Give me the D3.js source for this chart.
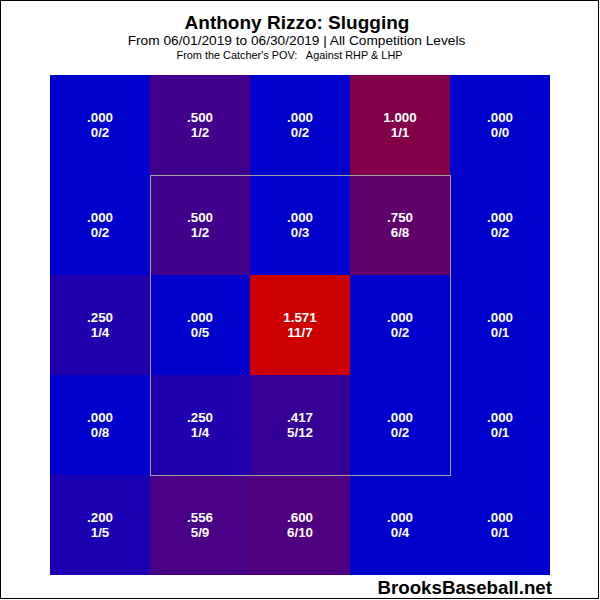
<!DOCTYPE html>
<html>
<head>
<meta charset="utf-8">
<script src="https://cdn.jsdelivr.net/npm/d3@7"></script>
<style>
  body { margin: 0; background: #fff; }
  svg text { font-family: "Liberation Sans", Arial, sans-serif; }
</style>
</head>
<body>
<div id="container"></div>
<script>
// zone grid, catcher's view, rows top -> bottom, cols left -> right
const rows = [0, 1, 2, 3, 4];
const cols = [0, 1, 2, 3, 4];
const slg = [
  [0.000, 0.500, 0.000, 1.000, 0.000],
  [0.000, 0.500, 0.000, 0.750, 0.000],
  [0.250, 0.000, 1.571, 0.000, 0.000],
  [0.000, 0.250, 0.417, 0.000, 0.000],
  [0.200, 0.556, 0.600, 0.000, 0.000]
];
const bases = [
  [0, 1, 0, 1, 0],
  [0, 1, 0, 6, 0],
  [1, 0, 11, 0, 0],
  [0, 1, 5, 0, 0],
  [1, 5, 6, 0, 0]
];
const atBats = [
  [2, 2, 2, 1, 0],
  [2, 2, 3, 8, 2],
  [4, 5, 7, 2, 1],
  [8, 4, 12, 2, 1],
  [5, 9, 10, 4, 1]
];

const w = 600, h = 600;

var cells = [];
for (let r of rows) for (let c of cols)
  cells.push({r: r, c: c, v: slg[r][c], b: bases[r][c], ab: atBats[r][c]});

const xScale = d3.scaleBand().domain(cols).range([50, 550]);
const yScale = d3.scaleBand().domain(rows).range([75, 575]);
const color = d3.scaleLinear()
                .domain([0, d3.max(cells, d => d.v)])
                .range(["#0000cc", "#cc0000"])
                .interpolate(d3.interpolateRgb);

const fmt = v => d3.format(".3f")(v).replace(/^0/, "");

var svg = d3.select("#container")
            .append("svg")
            .attr("width", w)
            .attr("height", h);

svg.append("rect")
   .attr("x", 0.5).attr("y", 0.5)
   .attr("width", 598).attr("height", 598)
   .attr("fill", "#fff")
   .attr("stroke", "#000");

svg.selectAll("rect.cell")
   .data(cells)
   .enter()
   .append("rect")
   .attr("class", "cell")
   .attr("x", d => xScale(d.c))
   .attr("y", d => yScale(d.r))
   .attr("width", xScale.bandwidth())
   .attr("height", yScale.bandwidth())
   .attr("fill", d => color(d.v));

// strike zone
svg.append("rect")
   .attr("x", xScale(1) + 0.5)
   .attr("y", yScale(1) + 0.5)
   .attr("width", xScale.bandwidth() * 3)
   .attr("height", yScale.bandwidth() * 3)
   .attr("fill", "none")
   .attr("stroke", "#a0a0a0")
   .attr("stroke-width", 1);

var labels = svg.selectAll("g.lab")
   .data(cells)
   .enter()
   .append("g")
   .attr("transform", d => "translate(" + (xScale(d.c) + xScale.bandwidth() / 2) + "," + (yScale(d.r) + yScale.bandwidth() / 2) + ")")
   .attr("fill", "#fff")
   .attr("font-weight", "bold")
   .attr("font-size", "13.4px")
   .attr("text-anchor", "middle");

labels.append("text").attr("y", -3).text(d => fmt(d.v));
labels.append("text").attr("y", 11.5).text(d => d.b + "/" + d.ab);

svg.append("text")
   .attr("x", 297).attr("y", 29)
   .attr("text-anchor", "middle")
   .attr("font-size", "19px")
   .attr("font-weight", "bold")
   .text("Anthony Rizzo: Slugging");

svg.append("text")
   .attr("x", 296.5).attr("y", 45)
   .attr("text-anchor", "middle")
   .attr("font-size", "13.7px")
   .text("From 06/01/2019 to 06/30/2019 | All Competition Levels");

svg.append("text")
   .attr("x", 289.5).attr("y", 58.5)
   .attr("text-anchor", "middle")
   .attr("font-size", "10.9px")
   .style("white-space", "pre")
   .text("From the Catcher's POV:   Against RHP & LHP");

svg.append("text")
   .attr("x", 552).attr("y", 594)
   .attr("text-anchor", "end")
   .attr("font-size", "18.7px")
   .attr("font-weight", "bold")
   .text("BrooksBaseball.net");
</script>
</body>
</html>
